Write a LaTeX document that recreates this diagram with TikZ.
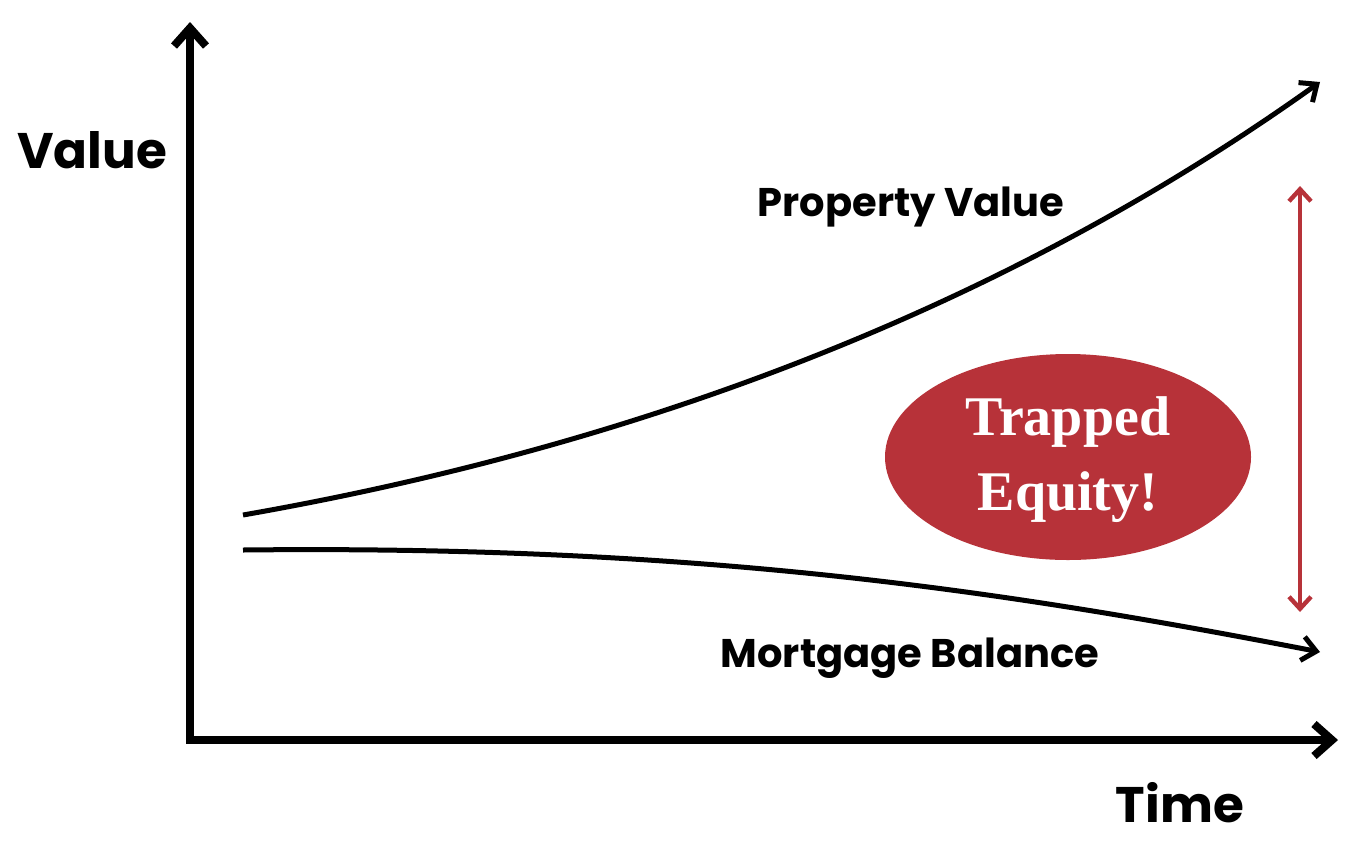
\documentclass[tikz,border=0pt]{standalone}
\usepackage{fontspec}
\setmainfont{Poppins}
\newfontfamily\serifbold{Liberation Serif}
\usetikzlibrary{arrows.meta,shapes.geometric}
\definecolor{equityred}{RGB}{183,50,57}
\tikzset{
  axisline/.style={line width=4pt,-{Straight Barb[length=9pt,width=16pt,line width=4pt]}},
  curveline/.style={line width=2.5pt,-{Straight Barb[length=7pt,width=12pt,line width=2.5pt]}},
  axislabel/.style={font=\fontsize{25pt}{30pt}\bfseries\selectfont},
  curvelabel/.style={font=\fontsize{20pt}{24pt}\bfseries\selectfont}
}
\begin{document}
\begin{tikzpicture}[x=0.5pt,y=0.5pt,yscale=-1]
\useasboundingbox (0,0) rectangle (1352,846);

%Axes
\coordinate (origin) at (190,740);
\coordinate (ytop) at (190,22);
\coordinate (xend) at (1338,740);
\draw [axisline,line cap=rect] (origin) -- (ytop);
\draw [axisline,line cap=rect] (origin) -- (xend);

%Curves
\coordinate (pstart) at (243,515);
\coordinate (pend) at (1320,82);
\draw [curveline] (pstart) .. controls (700,435) and (1050,275) .. (pend);
\coordinate (mstart) at (243,550);
\coordinate (mend) at (1320,652);
\draw [curveline] (mstart) .. controls (700,545) and (1000,590) .. (mend);

%Equity arrow
\coordinate (etop) at (1300,186);
\coordinate (ebot) at (1300,612);
\draw [equityred,line width=2.2pt,{Straight Barb[length=6pt,width=11pt]}-{Straight Barb[length=6pt,width=11pt]}] (etop) -- (ebot);

%Bubble
\node (bubble) [ellipse,fill=equityred,minimum width=183pt,minimum height=103pt,inner sep=0pt] at (1068,457) {};
\node (trapped) [text=white,font=\fontsize{28pt}{32pt}\serifbold\bfseries\selectfont] at (1068,422) {Trapped};
\node (equity) [text=white,font=\fontsize{28pt}{32pt}\serifbold\bfseries\selectfont] at (1068,497) {Equity!};

% Text Node
\node (value) [axislabel] at (92,150) {Value};
\node (time) [axislabel] at (1180,803) {Time};
\node (plabel) [curvelabel] at (911,207) {Property Value};
\node (mlabel) [curvelabel] at (910,658) {Mortgage Balance};
\end{tikzpicture}
\end{document}
